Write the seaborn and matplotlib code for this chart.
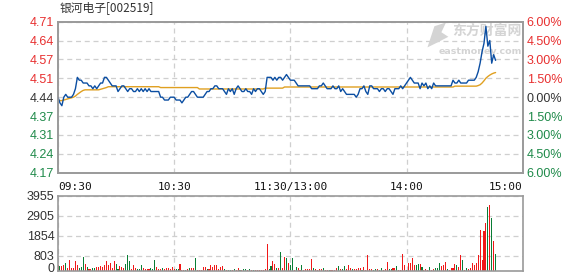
import matplotlib
matplotlib.use("Agg")
import matplotlib.pyplot as plt
from matplotlib.patches import Polygon
import numpy as np
import pandas as pd
import seaborn as sns

# ---------------- data ----------------
title = "银河电子[002519]"
prev_close = 4.44
time_ticks = [0, 60, 120, 180, 240]
time_labels = ["09:30", "10:30", "11:30/13:00", "14:00", "15:00"]
pct_ticks = [6.0, 4.5, 3.0, 1.5, 0.0, -1.5, -3.0, -4.5, -6.0]
price_tick_labels = ["4.71", "4.64", "4.57", "4.51", "4.44", "4.37", "4.31", "4.24", "4.17"]
pct_tick_labels = ["6.00%", "4.50%", "3.00%", "1.50%", "0.00%", "1.50%", "3.00%", "4.50%", "6.00%"]
vol_ticks = [0, 803, 1854, 2905, 3955]
vol_tick_labels = ["0", "803", "1854", "2905", "3955"]

price = [
    4.44, 4.42, 4.41, 4.44, 4.45, 4.44, 4.44, 4.44, 4.45, 4.47,
    4.51, 4.50, 4.50, 4.49, 4.49, 4.49, 4.48, 4.48, 4.47, 4.48,
    4.47, 4.48, 4.49, 4.49, 4.51, 4.51, 4.50, 4.49, 4.48, 4.48,
    4.48, 4.46, 4.47, 4.48, 4.48, 4.47, 4.46, 4.47, 4.47, 4.46,
    4.46, 4.47, 4.46, 4.47, 4.46, 4.47, 4.46, 4.47, 4.46, 4.46,
    4.46, 4.46, 4.46, 4.44, 4.44, 4.43, 4.43, 4.43, 4.44, 4.44,
    4.44, 4.43, 4.43, 4.43, 4.42, 4.43, 4.44, 4.44, 4.45, 4.46,
    4.46, 4.45, 4.44, 4.44, 4.44, 4.44, 4.45, 4.46, 4.46, 4.47,
    4.47, 4.48, 4.48, 4.47, 4.47, 4.47, 4.46, 4.45, 4.47, 4.46,
    4.47, 4.45, 4.47, 4.48, 4.47, 4.46, 4.46, 4.47, 4.46, 4.46,
    4.45, 4.47, 4.46, 4.47, 4.47, 4.46, 4.45, 4.46, 4.51, 4.51,
    4.51, 4.50, 4.51, 4.50, 4.51, 4.51, 4.50, 4.51, 4.52, 4.51,
    4.50, 4.50, 4.50, 4.49, 4.48, 4.48, 4.48, 4.48, 4.48, 4.48,
    4.48, 4.47, 4.47, 4.47, 4.47, 4.48, 4.48, 4.49, 4.48, 4.47,
    4.47, 4.47, 4.48, 4.47, 4.47, 4.48, 4.46, 4.47, 4.46, 4.45,
    4.45, 4.45, 4.45, 4.45, 4.44, 4.45, 4.47, 4.47, 4.48, 4.46,
    4.45, 4.48, 4.48, 4.47, 4.47, 4.47, 4.46, 4.47, 4.47, 4.46,
    4.47, 4.47, 4.46, 4.45, 4.47, 4.47, 4.47, 4.48, 4.47, 4.48,
    4.49, 4.50, 4.51, 4.50, 4.49, 4.49, 4.49, 4.47, 4.49, 4.48,
    4.49, 4.47, 4.48, 4.47, 4.49, 4.48, 4.48, 4.48, 4.48, 4.48,
    4.48, 4.48, 4.48, 4.48, 4.50, 4.49, 4.49, 4.50, 4.49, 4.49,
    4.49, 4.49, 4.50, 4.50, 4.50, 4.50, 4.51, 4.53, 4.56, 4.60,
    4.63, 4.69, 4.62, 4.64, 4.56, 4.59, 4.57,
]

avg_price = [
    4.430, 4.428, 4.428, 4.430, 4.432, 4.434, 4.436, 4.438, 4.440, 4.444,
    4.450, 4.455, 4.460, 4.464, 4.466, 4.466, 4.466, 4.466, 4.466, 4.466,
    4.466, 4.466, 4.468, 4.470, 4.472, 4.474, 4.477, 4.477, 4.477, 4.477,
    4.477, 4.477, 4.477, 4.477, 4.477, 4.477, 4.477, 4.477, 4.477, 4.477,
    4.477, 4.477, 4.477, 4.477, 4.477, 4.477, 4.477, 4.477, 4.477, 4.477,
    4.477, 4.477, 4.477, 4.474, 4.474, 4.474, 4.474, 4.474, 4.474, 4.474,
    4.474, 4.474, 4.474, 4.474, 4.474, 4.474, 4.474, 4.474, 4.474, 4.474,
    4.474, 4.474, 4.474, 4.469, 4.469, 4.469, 4.469, 4.469, 4.469, 4.469,
    4.469, 4.469, 4.469, 4.469, 4.469, 4.469, 4.469, 4.469, 4.469, 4.469,
    4.469, 4.469, 4.469, 4.469, 4.469, 4.469, 4.469, 4.469, 4.469, 4.469,
    4.469, 4.469, 4.469, 4.469, 4.469, 4.469, 4.469, 4.472, 4.472, 4.472,
    4.472, 4.472, 4.472, 4.472, 4.472, 4.472, 4.472, 4.476, 4.476, 4.476,
    4.476, 4.476, 4.476, 4.476, 4.476, 4.476, 4.476, 4.476, 4.476, 4.476,
    4.476, 4.476, 4.476, 4.476, 4.476, 4.476, 4.476, 4.476, 4.476, 4.476,
    4.476, 4.476, 4.476, 4.476, 4.476, 4.476, 4.476, 4.476, 4.476, 4.476,
    4.476, 4.476, 4.476, 4.476, 4.476, 4.476, 4.476, 4.476, 4.476, 4.476,
    4.476, 4.476, 4.476, 4.476, 4.476, 4.476, 4.476, 4.476, 4.476, 4.476,
    4.476, 4.476, 4.476, 4.476, 4.476, 4.476, 4.476, 4.476, 4.476, 4.476,
    4.476, 4.476, 4.476, 4.476, 4.476, 4.476, 4.476, 4.476, 4.476, 4.476,
    4.476, 4.476, 4.476, 4.476, 4.476, 4.476, 4.476, 4.476, 4.476, 4.476,
    4.476, 4.476, 4.476, 4.476, 4.476, 4.479, 4.479, 4.479, 4.479, 4.479,
    4.479, 4.479, 4.479, 4.479, 4.479, 4.479, 4.479, 4.481, 4.484, 4.490,
    4.498, 4.507, 4.513, 4.518, 4.522, 4.525, 4.527,
]

volume = [
    300, 264, 264, 317, 422, 176, 581, 141, 176, 528,
    317, 176, 229, 739, 370, 211, 123, 123, 158, 176,
    194, 229, 264, 229, 317, 528, 317, 405, 176, 546,
    370, 123, 282, 211, 176, 370, 845, 546, 123, 317,
    176, 88, 88, 317, 176, 88, 123, 123, 158, 88,
    581, 211, 123, 88, 176, 88, 158, 158, 88, 211,
    123, 123, 123, 370, 70, 70, 70, 123, 158, 158,
    158, 686, 70, 70, 70, 211, 211, 123, 106, 317,
    211, 317, 317, 88, 229, 264, 123, 70, 70, 70,
    70, 123, 70, 158, 70, 35, 123, 123, 70, 123,
    70, 70, 70, 70, 70, 70, 70, 123, 1426, 123,
    282, 546, 370, 141, 158, 1003, 141, 757, 669, 422,
    334, 686, 70, 211, 158, 70, 299, 70, 123, 123,
    123, 634, 176, 88, 70, 123, 123, 176, 70, 70,
    70, 70, 70, 70, 158, 264, 123, 123, 264, 123,
    317, 176, 123, 123, 123, 158, 158, 70, 211, 70,
    845, 123, 88, 70, 105, 105, 53, 141, 53, 105,
    474, 105, 105, 141, 141, 246, 53, 53, 896, 316,
    53, 439, 439, 685, 316, 316, 369, 369, 193, 53,
    105, 53, 193, 53, 105, 141, 141, 422, 264, 316,
    474, 105, 53, 141, 141, 369, 316, 228, 843, 580,
    53, 176, 105, 158, 439, 316, 439, 843, 2161, 580,
    2108, 2530, 3356, 3479, 2776, 1581, 896,
]

vol_dir = (
    "r g r r g r r r r r "
    "r g g g r g r r g g "
    "r r r r r r r r r r "
    "g g r r r g g g r r "
    "r g g g r r r r g g "
    "g r r r g r r r r r "
    "r g g r r r g r g r "
    "r g r r r r r g r r "
    "r r r r r r g r g g "
    "r g r r g r g g r g "
    "r g r r r r r r r g "
    "g r r g r g r r g r "
    "g g r g r r g r r r "
    "r r g r r r r g r r "
    "g r r r r g r g g r "
    "r r g r r r r g r r "
    "r r r g g r g g r r "
    "r g g r r g r r r r "
    "g r r r r g g r g r "
    "r r g r r g g g r r "
    "r g r r r r g r r g "
    "r g r r r r r r r r "
    "r r g r g r g"
).split()

# ---------------- style ----------------
RED = "#f01818"
GREEN = "#0a7d35"
BLUE = "#0b4ea2"
ORANGE = "#e0a020"
LBL_RED = "#e83030"
LBL_GREEN = "#1f8a4a"
DARK = "#333333"
SPINE = "#9a9a9a"
GRID = "#cfcfcf"
WM = "#d4d4d4"

sns.set_style("white")
plt.rcParams["font.family"] = ["Liberation Sans", "DejaVu Sans"]

fig = plt.figure(figsize=(5.78, 2.76), dpi=100)
W, H = 578.0, 276.0
ax = fig.add_axes([58 / W, 103.3 / H, 464.7 / W, 151 / H])
axv = fig.add_axes([58 / W, 5 / H, 464.7 / W, 75 / H])

# watermark (inside the price panel, behind the lines)
ax.text(0.998, 0.985, "东方财富网", transform=ax.transAxes, fontsize=10, color=WM,
        fontweight="bold", va="top", ha="right",
        family=["Noto Sans CJK SC", "DejaVu Sans"], zorder=1)
ax.text(0.998, 0.835, "eastmoney.com", transform=ax.transAxes, fontsize=6.8, color=WM,
        fontweight="bold", va="top", ha="right", family=["DejaVu Sans"], zorder=1)
logo = Polygon([(0.795, 0.83), (0.81, 0.97), (0.835, 0.995), (0.825, 0.93),
                (0.84, 0.9), (0.815, 0.86)], closed=True, transform=ax.transAxes,
               facecolor=WM, edgecolor="none", zorder=1)
ax.add_patch(logo)

minutes = np.arange(len(price))
df_p = pd.DataFrame({"minute": minutes, "price": price, "avg": avg_price})

sns.lineplot(data=df_p, x="minute", y="avg", color=ORANGE, linewidth=1.0,
             ax=ax, zorder=3, estimator=None, sort=False)
sns.lineplot(data=df_p, x="minute", y="price", color=BLUE, linewidth=1.0,
             ax=ax, zorder=4, estimator=None, sort=False)

ax.set_xlim(0, 240)
ax.set_ylim(prev_close * 0.94, prev_close * 1.06)
price_tick_pos = [prev_close * (1 + p / 100.0) for p in pct_ticks]
ax.set_yticks(price_tick_pos)
ax.set_yticklabels(price_tick_labels)
ax.set_xticks(time_ticks)
ax.set_xticklabels(time_labels)
ax.set_xlabel("")
ax.set_ylabel("")
ax.tick_params(axis="y", length=0, pad=3, labelsize=9)
ax.tick_params(axis="x", length=0, pad=6.5)
for t in ax.get_xticklabels():
    t.set_fontfamily("DejaVu Sans Mono")
    t.set_fontsize(8)
    t.set_color("#111111")
xl = ax.get_xticklabels()
xl[0].set_horizontalalignment("left")
xl[-1].set_horizontalalignment("right")
for t, p in zip(ax.get_yticklabels(), pct_ticks):
    t.set_color(LBL_RED if p > 0 else (LBL_GREEN if p < 0 else DARK))
ax.grid(True, color=GRID, linestyle=(0, (4, 3)), linewidth=0.9)
ax.set_axisbelow(True)

ax2 = ax.twinx()
ax2.set_ylim(-6, 6)
ax2.set_yticks(pct_ticks)
ax2.set_yticklabels(pct_tick_labels)
ax2.tick_params(axis="y", length=0, pad=3, labelsize=9)
for t, p in zip(ax2.get_yticklabels(), pct_ticks):
    t.set_color(LBL_RED if p > 0 else (LBL_GREEN if p < 0 else DARK))
ax2.grid(False)

# volume
df_v = pd.DataFrame({"minute": np.arange(len(volume)), "volume": volume, "dir": vol_dir})
sns.barplot(data=df_v, x="minute", y="volume", hue="dir",
            palette={"r": RED, "g": GREEN}, native_scale=True, dodge=False,
            width=0.55, errorbar=None, legend=False, saturation=1,
            linewidth=0, ax=axv)
axv.set_xlim(0, 240)
axv.set_ylim(0, 3955)
axv.set_yticks(vol_ticks)
# the bottom "0" label is drawn separately so that it stays inside the image
axv.set_yticklabels([""] + vol_tick_labels[1:])
axv.set_xticks(time_ticks)
axv.set_xticklabels([])
axv.set_xlabel("")
axv.set_ylabel("")
axv.tick_params(axis="both", length=0, pad=2.5, labelsize=9, labelcolor=DARK)
axv.grid(True, color=GRID, linestyle=(0, (4, 3)), linewidth=0.9)
axv.set_axisbelow(True)
fig.text(54.5 / W, 0.6 / H, vol_tick_labels[0], fontsize=9, color=DARK,
         ha="right", va="bottom")

for a in (ax, ax2, axv):
    for s in a.spines.values():
        s.set_color(SPINE)
        s.set_linewidth(1.2)
        s.set_visible(True)

fig.text(60 / W, 1 - 8 / H, title, fontsize=8.5, color=DARK, va="center", ha="left",
         family=["Noto Sans CJK SC", "DejaVu Sans"])

fig.savefig("out.png", dpi=100)
